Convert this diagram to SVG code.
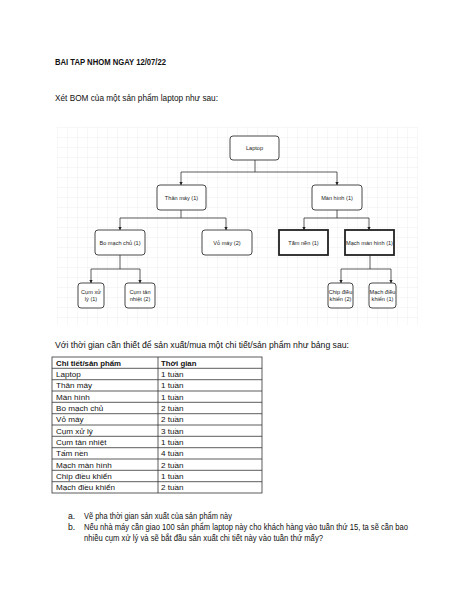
<svg xmlns="http://www.w3.org/2000/svg" width="474" height="613" viewBox="0 0 474 613">
<defs>
<pattern id="grid" x="57" y="127" width="10" height="10" patternUnits="userSpaceOnUse">
<path d="M10 0H0V10" fill="none" stroke="#e2e2e2" stroke-width="0.6"/>
</pattern>
<marker id="arr" viewBox="0 0 6 6" refX="5.5" refY="3" markerWidth="4" markerHeight="4" orient="auto">
<path d="M0 0L6 3L0 6Z" fill="#222"/>
</marker>
</defs>
<style>
.t{font-family:"Liberation Sans",Arial,sans-serif;fill:#111}
.b{font-size:8.6px}
.h{font-size:8.6px;font-weight:bold}
.tt{font-size:8.1px}
.n{font-family:"Liberation Sans",Arial,sans-serif;font-size:5.6px;fill:#222;text-anchor:middle}
.box{fill:#fff;stroke:#333;stroke-width:0.9}
.thick{fill:#fff;stroke:#222;stroke-width:1.8}
.c{fill:none;stroke:#333;stroke-width:0.8}
.tb{fill:none;stroke:#333;stroke-width:0.8}
</style>
<rect width="474" height="613" fill="#fff"/>
<text class="t h" x="55" y="65" textLength="111" lengthAdjust="spacingAndGlyphs">BAI TAP NHOM NGAY 12/07/22</text>
<text class="t b" x="55" y="101" textLength="163" lengthAdjust="spacingAndGlyphs">Xét BOM của một sản phẩm laptop như sau:</text>
<rect x="57" y="127" width="361" height="198" fill="url(#grid)"/>
<g id="connectors">
<path class="c" d="M255 160V172M181 172H337"/>
<path class="c" d="M181 172V185" marker-end="url(#arr)"/>
<path class="c" d="M337 172V185" marker-end="url(#arr)"/>
<path class="c" d="M181 210V218M120 218H226"/>
<path class="c" d="M120 218V230" marker-end="url(#arr)"/>
<path class="c" d="M226 218V230" marker-end="url(#arr)"/>
<path class="c" d="M337 210V218M304 218H369"/>
<path class="c" d="M304 218V230" marker-end="url(#arr)"/>
<path class="c" d="M369 218V230" marker-end="url(#arr)"/>
<path class="c" d="M120 255V269M91 269H140"/>
<path class="c" d="M91 269V283" marker-end="url(#arr)"/>
<path class="c" d="M140 269V283" marker-end="url(#arr)"/>
<path class="c" d="M370 255V269M341 269H391"/>
<path class="c" d="M341 269V283" marker-end="url(#arr)"/>
<path class="c" d="M391 269V283" marker-end="url(#arr)"/>
</g>
<g id="laptop"><rect class="box" x="230" y="136" width="49" height="24" rx="3"/><text class="n" x="254.5" y="150">Laptop</text></g>
<g id="than-may"><rect class="box" x="157" y="185" width="49" height="25" rx="3"/><text class="n" x="181.5" y="199.5">Thân máy (1)</text></g>
<g id="man-hinh"><rect class="box" x="312" y="185" width="50" height="25" rx="3"/><text class="n" x="337" y="199.5">Màn hình (1)</text></g>
<g id="bo-mach-chu"><rect class="box" x="95" y="230" width="50" height="25" rx="3"/><text class="n" x="120" y="244.5">Bo mạch chủ (1)</text></g>
<g id="vo-may"><rect class="box" x="202" y="230" width="50" height="25" rx="3"/><text class="n" x="227" y="244.5">Vỏ máy (2)</text></g>
<g id="tam-nen"><rect class="thick" x="279" y="230" width="49" height="25"/><text class="n" x="303.5" y="244.5">Tấm nền (1)</text></g>
<g id="mach-man-hinh"><rect class="thick" x="345" y="230" width="49" height="25"/><text class="n" x="369.5" y="244.5">Mạch màn hình (1)</text></g>
<g id="cum-xu-ly"><rect class="box" x="78" y="283" width="26" height="25" rx="3"/><text class="n" x="91" y="294">Cụm xử</text><text class="n" x="91" y="301">lý (1)</text></g>
<g id="cum-tan-nhiet"><rect class="box" x="125" y="283" width="30" height="25" rx="3"/><text class="n" x="140" y="294">Cụm tản</text><text class="n" x="140" y="301">nhiệt (2)</text></g>
<g id="chip-dieu-khien"><rect class="box" x="328" y="283" width="25" height="25" rx="3"/><text class="n" x="340.5" y="294">Chip điều</text><text class="n" x="340.5" y="301">khiển (2)</text></g>
<g id="mach-dieu-khien"><rect class="box" x="369" y="283" width="27" height="25" rx="3"/><text class="n" x="382.5" y="294">Mạch điều</text><text class="n" x="382.5" y="301">khiển (1)</text></g>
<text class="t b" x="55" y="348" textLength="294" lengthAdjust="spacingAndGlyphs">Với thời gian cần thiết để sản xuất/mua một chi tiết/sản phẩm như bảng sau:</text>
<g id="table">
<rect class="tb" x="52" y="357" width="210" height="136"/>
<path class="tb" d="M158 357V493M52 368.3H262M52 379.7H262M52 391H262M52 402.3H262M52 413.7H262M52 425H262M52 436.3H262M52 447.7H262M52 459H262M52 470.3H262M52 481.7H262"/>
<text class="t" font-size="7.8" font-weight="bold" x="56" y="365.5">Chi tiết/sản phẩm</text><text class="t" font-size="7.8" font-weight="bold" x="161" y="365.5">Thời gian</text>
<g class="t tt">
<text x="56" y="376.8">Laptop</text><text x="161" y="376.8">1 tuần</text>
<text x="56" y="388.1">Thân máy</text><text x="161" y="388.1">1 tuần</text>
<text x="56" y="399.5">Màn hình</text><text x="161" y="399.5">1 tuần</text>
<text x="56" y="410.8">Bo mạch chủ</text><text x="161" y="410.8">2 tuần</text>
<text x="56" y="422.1">Vỏ máy</text><text x="161" y="422.1">2 tuần</text>
<text x="56" y="433.5">Cụm xử lý</text><text x="161" y="433.5">3 tuần</text>
<text x="56" y="444.8">Cụm tản nhiệt</text><text x="161" y="444.8">1 tuần</text>
<text x="56" y="456.1">Tấm nền</text><text x="161" y="456.1">4 tuần</text>
<text x="56" y="467.5">Mạch màn hình</text><text x="161" y="467.5">2 tuần</text>
<text x="56" y="478.8">Chip điều khiển</text><text x="161" y="478.8">1 tuần</text>
<text x="56" y="490.1">Mạch điều khiển</text><text x="161" y="490.1">2 tuần</text>
</g>
</g>
<g class="t b">
<text x="68" y="519">a.</text>
<text x="84" y="519" textLength="148" lengthAdjust="spacingAndGlyphs">Vẽ pha thời gian sản xuất của sản phẩm này</text>
<text x="68" y="530">b.</text>
<text x="84" y="530" textLength="324" lengthAdjust="spacingAndGlyphs">Nếu nhà máy cần giao 100 sản phẩm laptop này cho khách hàng vào tuần thứ 15, ta sẽ cần bao</text>
<text x="84" y="541" textLength="239" lengthAdjust="spacingAndGlyphs">nhiều cụm xử lý và sẽ bắt đầu sản xuất chi tiết này vào tuần thứ mấy?</text>
</g>
</svg>
